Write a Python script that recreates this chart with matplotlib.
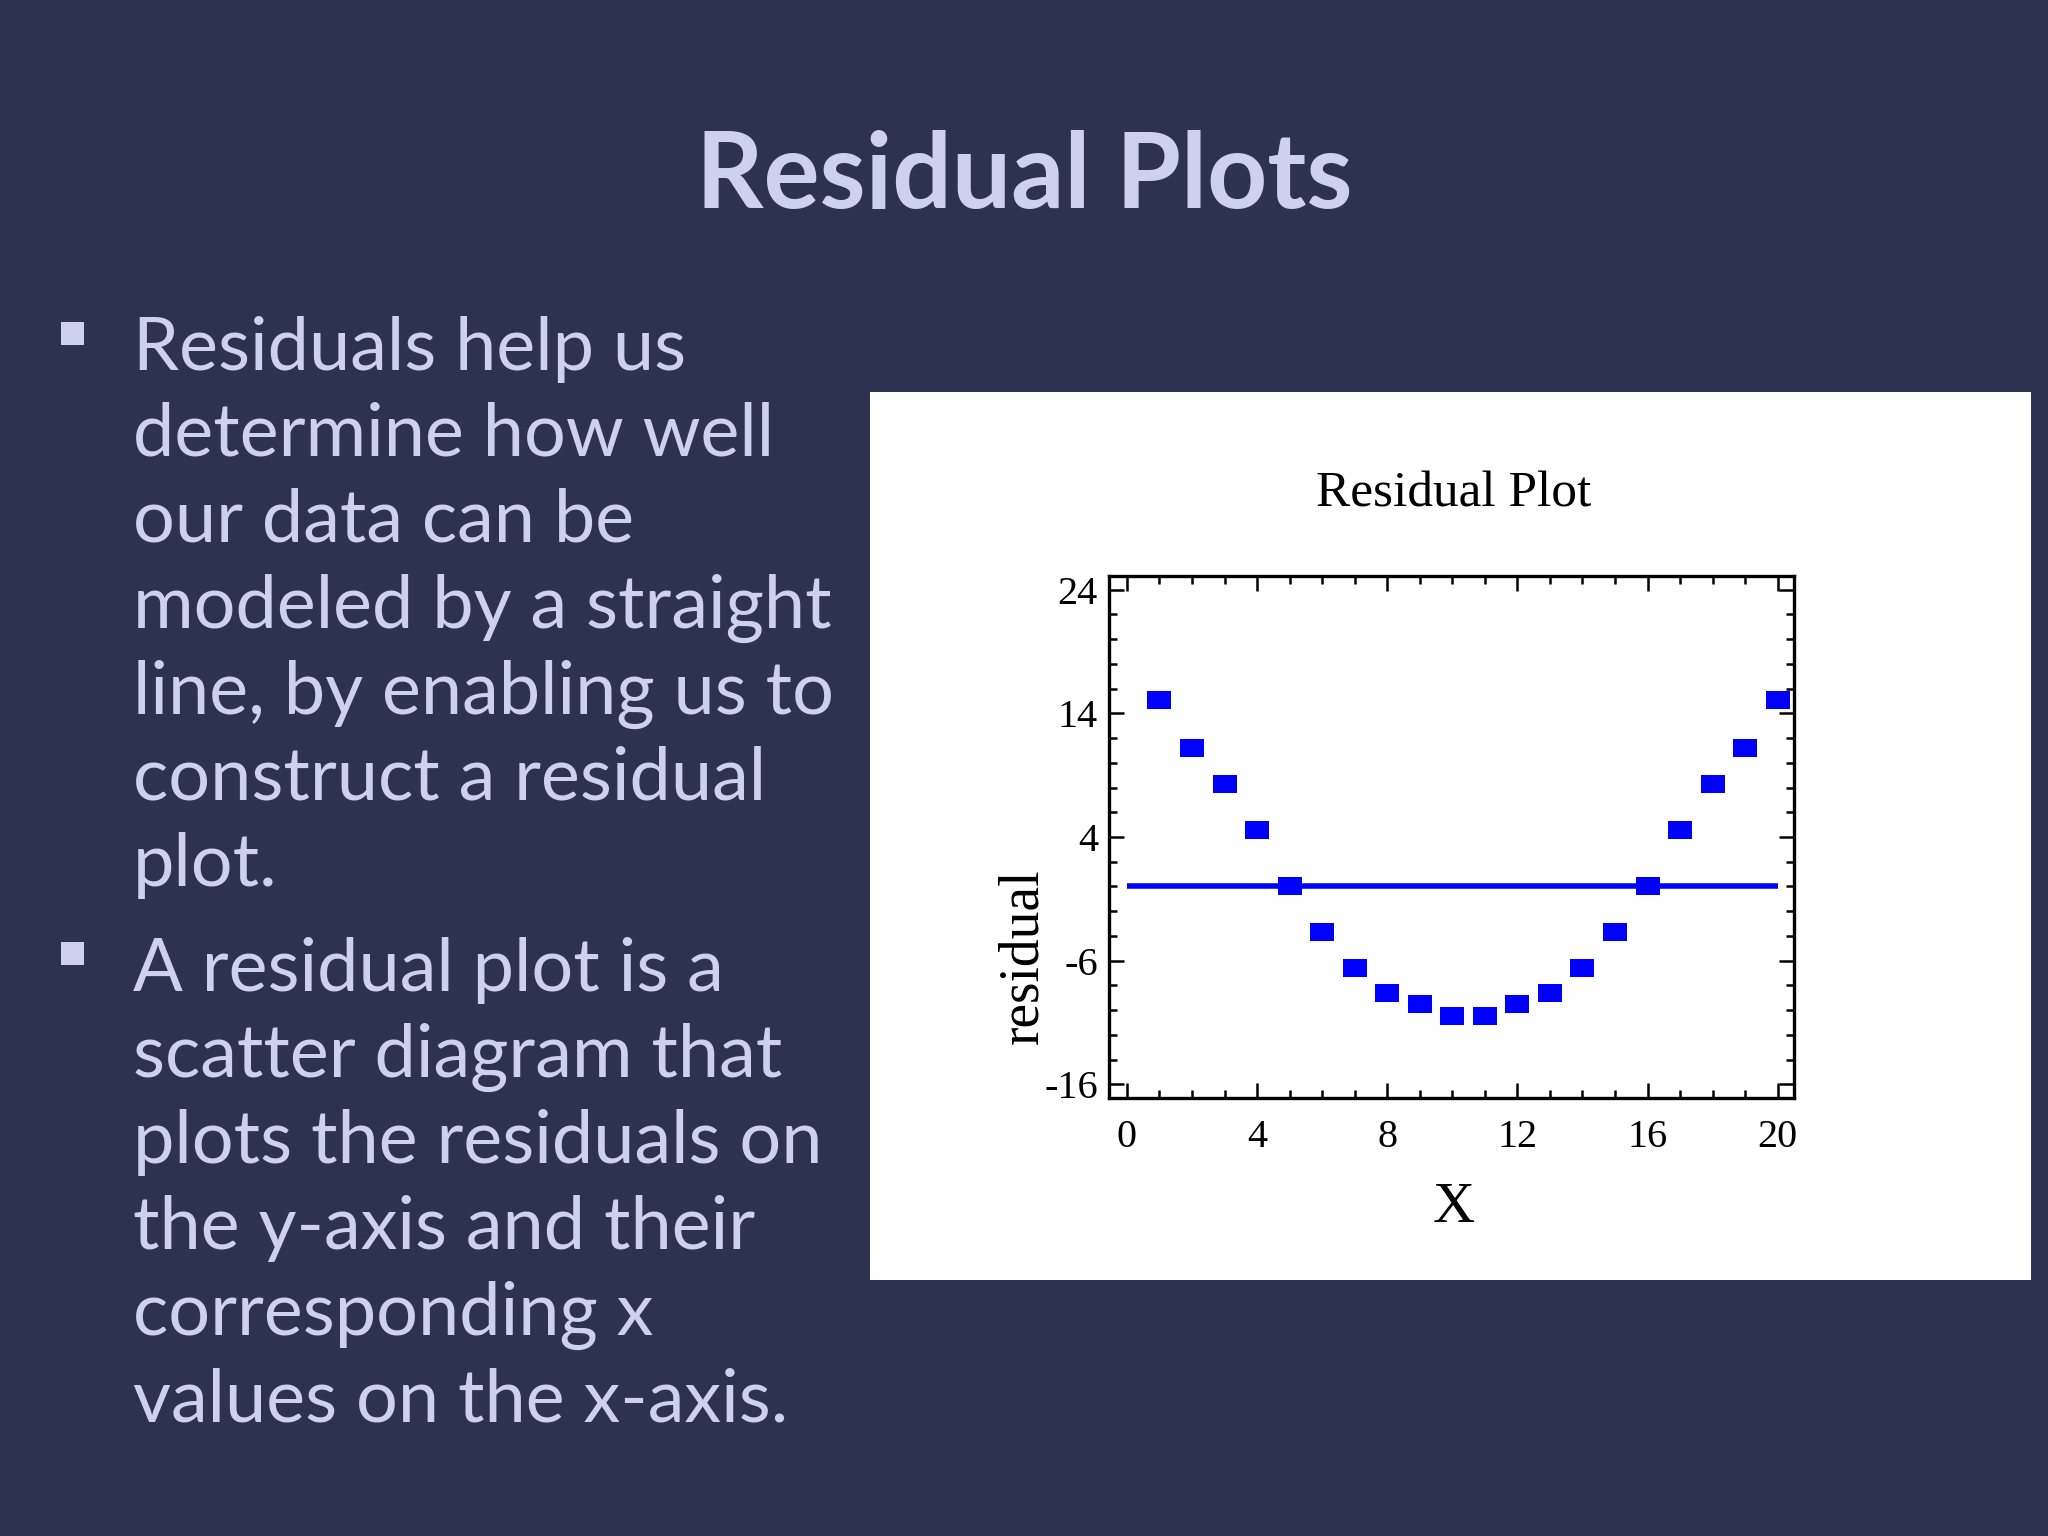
import matplotlib
matplotlib.use("Agg")
import matplotlib.pyplot as plt
from matplotlib.patches import Rectangle
from matplotlib.ticker import MultipleLocator, FixedLocator

# ---------------- data ----------------
slide_title = "Residual Plots"
bullet_1 = ["Residuals help us", "determine how well", "our data can be",
            "modeled by a straight", "line, by enabling us to",
            "construct a residual", "plot."]
bullet_2 = ["A residual plot is a", "scatter diagram that",
            "plots the residuals on", "the y-axis and their",
            "corresponding x", "values on the x-axis."]

chart_title = "Residual Plot"
x_label = "X"
y_label = "residual"
x_values = list(range(1, 21))
residuals = [15.1, 11.2, 8.3, 4.6, 0.0, -3.7, -6.6, -8.6, -9.5, -10.5,
             -10.5, -9.5, -8.6, -6.6, -3.7, 0.0, 4.6, 8.3, 11.2, 15.1]
x_ticks = [0, 4, 8, 12, 16, 20]
y_ticks = [24, 14, 4, -6, -16]
ref_line_y = 0
ref_line_x = [0, 20]

# ---------------- layout ----------------
W, H, DPI = 2048, 1536, 100
BG = "#2D3250"
TXT = "#CDD0EE"
BLUE = "#0000FF"

fig = plt.figure(figsize=(W / DPI, H / DPI), dpi=DPI, facecolor=BG)
renderer = fig.canvas.get_renderer()


def fx(x):
    return x / W


def fy(y):
    return 1 - y / H


def fit_size(text, target_px, family, weight="normal", base=40.0):
    t = fig.text(0, 0, text, fontsize=base, family=family, weight=weight)
    w = t.get_window_extent(renderer).width
    t.remove()
    return base * target_px / w


BODY_FONT = ["Lato", "DejaVu Sans"]

# title
title_size = fit_size(slide_title, 656, BODY_FONT, "bold")
fig.text(fx(1024), fy(208), slide_title, fontsize=title_size, family=BODY_FONT,
         weight="bold", color=TXT, ha="center", va="baseline")

# bullets
body_size = min(fit_size("line, by enabling us to", 700, BODY_FONT),
                fit_size("modeled by a straight", 699, BODY_FONT))
line_step = 86
for lines, base_y, sq_top in ((bullet_1, 370, 322), (bullet_2, 991, 942)):
    fig.patches.append(Rectangle((fx(61), fy(sq_top + 23)), 23 / W, 23 / H,
                                 transform=fig.transFigure, facecolor=TXT,
                                 edgecolor="none"))
    for i, ln in enumerate(lines):
        fig.text(fx(133), fy(base_y + i * line_step), ln, fontsize=body_size,
                 family=BODY_FONT, color=TXT, ha="left", va="baseline")

# white panel (behind the axes)
fig.patches.append(Rectangle((fx(870), fy(1280)), (2031 - 870) / W, (1280 - 392) / H,
                             transform=fig.transFigure, facecolor="white",
                             edgecolor="none", zorder=-5))

# axes
ax_l, ax_r, ax_t, ax_b = 1109, 1794, 576, 1098
ax = fig.add_axes([fx(ax_l), fy(ax_b), (ax_r - ax_l) / W, (ax_b - ax_t) / H])
ax.set_zorder(2)
ax.set_facecolor("white")
ax.set_xlim(-0.55, 20.5)
ax.set_ylim(-17.1, 25.1)

ax.hlines(ref_line_y, ref_line_x[0], ref_line_x[1], color=BLUE, linewidth=4.0, zorder=2)
rect_marker = [(-1.4, -1), (1.4, -1), (1.4, 1), (-1.4, 1), (-1.4, -1)]
ax.plot(x_values, residuals, linestyle="none", marker=rect_marker,
        markersize=17.5, markerfacecolor=BLUE, markeredgecolor=BLUE,
        markeredgewidth=0, zorder=3, clip_on=False)

ax.xaxis.set_major_locator(FixedLocator(x_ticks))
ax.xaxis.set_minor_locator(MultipleLocator(1))
ax.yaxis.set_major_locator(FixedLocator(y_ticks))
ax.yaxis.set_minor_locator(MultipleLocator(2))
ax.set_xticklabels([str(v) for v in x_ticks])
ax.set_yticklabels([str(v) for v in y_ticks])

SERIF = ["Liberation Serif", "DejaVu Serif"]
ax.tick_params(which="both", direction="in", top=True, right=True,
               color="black", width=1.8)
ax.tick_params(which="major", length=11)
ax.tick_params(which="minor", length=6)
ax.tick_params(axis="x", which="major", pad=15)
ax.tick_params(axis="y", which="major", pad=8)
for lab in ax.get_xticklabels() + ax.get_yticklabels():
    lab.set_fontsize(29)
    lab.set_family(SERIF)
    lab.set_color("black")
for sp in ax.spines.values():
    sp.set_linewidth(2.4)
    sp.set_color("black")

fig.text(fx(1454), fy(494), chart_title, fontsize=37, family=SERIF,
         color="black", ha="center", va="center")
fig.text(fx(1454), fy(1208), x_label, fontsize=42, family=SERIF,
         color="black", ha="center", va="center")
fig.text(fx(1023), fy(956), y_label, fontsize=40, family=SERIF,
         color="black", ha="center", va="center", rotation=90)

fig.savefig("out.png", dpi=DPI, facecolor=BG)
